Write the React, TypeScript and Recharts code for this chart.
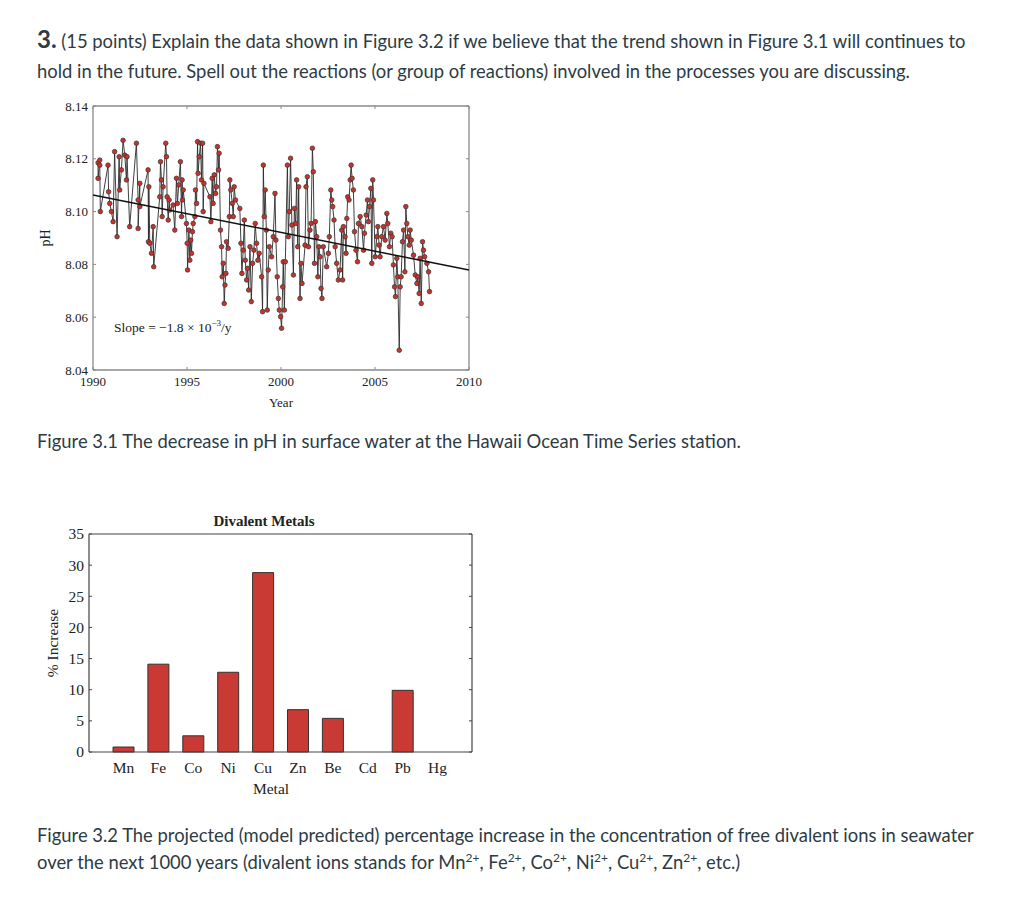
import { ScatterChart, Scatter, XAxis, YAxis, BarChart, Bar } from "recharts"

// HOT station surface pH
const years = [
  1990.27, 1990.27, 1990.36, 1990.36, 1990.39, 1990.8, 1990.83, 1990.89, 1990.98, 1991.07,
  1991.15, 1991.28, 1991.39, 1991.42, 1991.51, 1991.6, 1991.69, 1991.78, 1991.81, 1991.95,
  1992.31, 1992.4, 1992.4, 1992.49, 1992.49, 1992.93, 1992.95, 1992.97, 1993.02, 1993.11,
  1993.2, 1993.23, 1993.55, 1993.59, 1993.64, 1993.68, 1993.73, 1993.87, 1993.91, 1993.94,
  1994.0, 1994.05, 1994.08, 1994.26, 1994.35, 1994.44, 1994.49, 1994.56, 1994.65, 1994.71,
  1994.74, 1994.76, 1994.8, 1994.97, 1995.01, 1995.03, 1995.1, 1995.15, 1995.2, 1995.24,
  1995.29, 1995.33, 1995.42, 1995.45, 1995.51, 1995.56, 1995.59, 1995.65, 1995.72, 1995.77,
  1995.83, 1995.86, 1995.9, 1996.22, 1996.27, 1996.34, 1996.39, 1996.45, 1996.52, 1996.57,
  1996.62, 1996.68, 1996.71, 1996.78, 1996.84, 1996.87, 1996.93, 1996.98, 1997.02, 1997.07,
  1997.1, 1997.19, 1997.25, 1997.28, 1997.33, 1997.41, 1997.46, 1997.51, 1997.58, 1997.81,
  1997.87, 1997.92, 1997.99, 1998.05, 1998.1, 1998.17, 1998.22, 1998.28, 1998.35, 1998.42,
  1998.49, 1998.56, 1998.63, 1998.7, 1998.77, 1998.84, 1998.97, 1999.02, 1999.06, 1999.11,
  1999.16, 1999.22, 1999.27, 1999.32, 1999.38, 1999.5, 1999.59, 1999.68, 1999.73, 1999.8,
  1999.86, 1999.91, 1999.98, 2000.03, 2000.09, 2000.12, 2000.18, 2000.23, 2000.34, 2000.39,
  2000.44, 2000.51, 2000.58, 2000.66, 2000.71, 2000.78, 2000.83, 2000.89, 2000.94, 2001.01,
  2001.06, 2001.12, 2001.28, 2001.33, 2001.4, 2001.46, 2001.54, 2001.6, 2001.67, 2001.72,
  2001.78, 2001.83, 2001.9, 2001.96, 2002.01, 2002.08, 2002.13, 2002.18, 2002.25, 2002.43,
  2002.52, 2002.57, 2002.65, 2002.7, 2002.75, 2002.82, 2002.88, 2002.96, 2003.05, 2003.14,
  2003.23, 2003.28, 2003.32, 2003.41, 2003.46, 2003.5, 2003.55, 2003.62, 2003.68, 2003.73,
  2003.78, 2003.85, 2003.91, 2003.99, 2004.07, 2004.12, 2004.21, 2004.3, 2004.39, 2004.44,
  2004.53, 2004.6, 2004.65, 2004.71, 2004.78, 2004.83, 2004.88, 2004.92, 2005.01, 2005.1,
  2005.15, 2005.22, 2005.27, 2005.36, 2005.45, 2005.54, 2005.63, 2005.68, 2005.77, 2005.84,
  2005.91, 2005.98, 2006.04, 2006.09, 2006.16, 2006.21, 2006.29, 2006.34, 2006.39, 2006.46,
  2006.52, 2006.59, 2006.64, 2006.69, 2006.75, 2006.82, 2006.87, 2006.93, 2007.05, 2007.14,
  2007.23, 2007.28, 2007.35, 2007.4, 2007.46, 2007.53, 2007.58, 2007.64, 2007.76, 2007.85,
  2007.9,
]
const ph = [
  8.1185, 8.1126, 8.1195, 8.1176, 8.1, 8.1176, 8.1075, 8.1031, 8.1, 8.0962,
  8.1227, 8.0905, 8.1208, 8.1082, 8.1158, 8.127, 8.1214, 8.112, 8.1208, 8.0943,
  8.1259, 8.1044, 8.0936, 8.1107, 8.1019, 8.1158, 8.0886, 8.1094, 8.088, 8.0842,
  8.0943, 8.0791, 8.1056, 8.1189, 8.112, 8.0981, 8.1094, 8.1259, 8.1208, 8.1056,
  8.0968, 8.1044, 8.1006, 8.1025, 8.093, 8.1126, 8.1031, 8.1101, 8.1189, 8.0981,
  8.112, 8.1044, 8.1082, 8.0955, 8.088, 8.0779, 8.093, 8.0816, 8.0892, 8.0842,
  8.0924, 8.0955, 8.0981, 8.1082, 8.1031, 8.1265, 8.1145, 8.1208, 8.1259, 8.112,
  8.1259, 8.1, 8.1107, 8.1056, 8.0962, 8.1126, 8.1031, 8.1139, 8.1069, 8.1094,
  8.1246, 8.1158, 8.1221, 8.093, 8.0867, 8.0753, 8.0804, 8.0652, 8.0722, 8.0766,
  8.0886, 8.0861, 8.0981, 8.112, 8.1082, 8.1031, 8.0981, 8.1094, 8.1044, 8.1012,
  8.088, 8.0766, 8.0854, 8.0968, 8.0816, 8.0741, 8.0785, 8.0703, 8.0867, 8.0659,
  8.0804, 8.0854, 8.0955, 8.088, 8.0816, 8.0842, 8.0753, 8.0621, 8.1176, 8.0981,
  8.1082, 8.093, 8.0627, 8.0779, 8.0867, 8.0829, 8.0905, 8.1069, 8.0892, 8.0753,
  8.0671, 8.0627, 8.0602, 8.0558, 8.0715, 8.081, 8.0627, 8.081, 8.1176, 8.0905,
  8.1, 8.1202, 8.0949, 8.076, 8.1012, 8.0955, 8.112, 8.0867, 8.1094, 8.0671,
  8.0804, 8.0728, 8.0873, 8.1094, 8.1132, 8.0867, 8.093, 8.0955, 8.124, 8.1151,
  8.0804, 8.0962, 8.0905, 8.0753, 8.0867, 8.0829, 8.0709, 8.0671, 8.0867, 8.0791,
  8.0842, 8.0905, 8.1082, 8.1044, 8.1019, 8.0968, 8.0867, 8.0804, 8.0741, 8.0779,
  8.093, 8.0741, 8.0943, 8.0905, 8.0842, 8.0974, 8.1056, 8.1044, 8.112, 8.1176,
  8.1126, 8.1082, 8.0924, 8.0854, 8.081, 8.0955, 8.0981, 8.0943, 8.0854, 8.0918,
  8.0987, 8.1044, 8.0962, 8.1019, 8.1088, 8.0804, 8.112, 8.1044, 8.0829, 8.0905,
  8.0943, 8.0873, 8.0829, 8.0905, 8.0943, 8.0892, 8.0993, 8.0955, 8.0867, 8.0918,
  8.0905, 8.0798, 8.0715, 8.0678, 8.0823, 8.0753, 8.0475, 8.0715, 8.0753, 8.0886,
  8.093, 8.0772, 8.1019, 8.0955, 8.0905, 8.0873, 8.093, 8.0892, 8.0835, 8.076,
  8.0728, 8.0753, 8.069, 8.0823, 8.0652, 8.0886, 8.0854, 8.0829, 8.0804, 8.0772,
  8.0697,
]
const trendYears = [1990, 2010]
const trendPh = [8.1063, 8.0779]
const yearTicks = [1990, 1995, 2000, 2005, 2010]
const phTicks = [8.04, 8.06, 8.08, 8.1, 8.12, 8.14]

// Figure 3.2
const metals = ["Mn", "Fe", "Co", "Ni", "Cu", "Zn", "Be", "Cd", "Pb", "Hg"]
const increase = [0.8, 14.1, 2.6, 12.8, 28.8, 6.8, 5.4, 0, 9.9, 0]
const pctTicks = [0, 5, 10, 15, 20, 25, 30, 35]

const phData = years.map((year, i) => ({ year, ph: ph[i] }))
const trendData = trendYears.map((year, i) => ({ year, ph: trendPh[i] }))
const metalData = metals.map((metal, i) => ({ metal, increase: increase[i] }))

const serif = "'Liberation Serif', serif"
const frame1 = "#8a8a8a"
const frame2 = "#444"
const ink = "#222"
const page = "#2d3b45"

const Dot = (p: any) => (
  <circle cx={p.cx} cy={p.cy} r={2.3} fill="#c9322c" stroke="#333" strokeWidth={0.7} />
)
const NoDot = () => <g />

// inward tick marks, labels outside
const leftTick = (size: number, col: string, fmt: (v: number) => string) => (p: any) => (
  <g>
    <line x1={p.x} x2={p.x + 3} y1={p.y} y2={p.y} stroke={col} />
    <text x={p.x - 5} y={p.y} dy="0.35em" textAnchor="end" fontSize={size} fontFamily={serif} fill={ink}>
      {fmt(p.payload.value)}
    </text>
  </g>
)
const rightTick = (col: string) => (p: any) => (
  <line x1={p.x} x2={p.x - 3} y1={p.y} y2={p.y} stroke={col} />
)
const topTick = (p: any) => <line x1={p.x} x2={p.x} y1={p.y} y2={p.y + 3} stroke={frame1} />
const yearTick = (p: any) => (
  <g>
    <line x1={p.x} x2={p.x} y1={p.y} y2={p.y - 3} stroke={frame1} />
    <text x={p.x} y={p.y + 16} textAnchor="middle" fontSize={13} fontFamily={serif} fill={ink}>
      {p.payload.value}
    </text>
  </g>
)
const metalTick = (p: any) => (
  <text x={p.x} y={p.y + 21} textAnchor="middle" fontSize={15.5} fontFamily={serif} fill={ink}>
    {p.payload.value}
  </text>
)

const abs = (left: number, top: number, extra: any = {}) => ({
  position: "absolute" as const,
  left,
  top,
  whiteSpace: "nowrap" as const,
  ...extra,
})

function PhChart() {
  const line = { stroke: frame1, strokeWidth: 1.3 }
  return (
    <ScatterChart width={470} height={330} margin={{ top: 15, right: 20, bottom: 20, left: 33 }}>
      <XAxis
        dataKey="year"
        type="number"
        domain={[1990, 2010]}
        ticks={yearTicks}
        height={30}
        tickSize={0}
        tickMargin={0}
        tickLine={false}
        axisLine={line}
        tick={yearTick}
        interval={0}
      />
      <XAxis
        xAxisId="top"
        dataKey="year"
        orientation="top"
        type="number"
        domain={[1990, 2010]}
        ticks={yearTicks}
        height={1}
        tickSize={0}
        tickMargin={0}
        tickLine={false}
        axisLine={line}
        tick={topTick}
        interval={0}
      />
      <YAxis
        dataKey="ph"
        type="number"
        domain={[8.04, 8.14]}
        ticks={phTicks}
        width={40}
        tickSize={0}
        tickMargin={0}
        tickLine={false}
        axisLine={line}
        tick={leftTick(13, frame1, (v) => v.toFixed(2))}
        interval={0}
      />
      <YAxis
        yAxisId="right"
        dataKey="ph"
        orientation="right"
        type="number"
        domain={[8.04, 8.14]}
        ticks={phTicks}
        width={1}
        tickSize={0}
        tickMargin={0}
        tickLine={false}
        axisLine={line}
        tick={rightTick(frame1)}
        interval={0}
      />
      <Scatter
        data={phData}
        line={{ stroke: "#2a2a2a", strokeWidth: 0.9 }}
        lineType="joint"
        shape={Dot}
        isAnimationActive={false}
      />
      <Scatter
        xAxisId="top"
        yAxisId="right"
        data={trendData}
        line={{ stroke: "#111", strokeWidth: 1.5 }}
        lineType="joint"
        shape={NoDot}
        isAnimationActive={false}
      />
    </ScatterChart>
  )
}

function MetalChart() {
  const line = { stroke: frame2, strokeWidth: 1.2 }
  return (
    <BarChart
      width={470}
      height={310}
      data={metalData}
      margin={{ top: 33, right: 17, bottom: 28, left: 29 }}
      barCategoryGap={0}
    >
      <XAxis
        dataKey="metal"
        height={30}
        padding={{ left: 17, right: 17 }}
        tickSize={0}
        tickMargin={0}
        tickLine={false}
        axisLine={line}
        tick={metalTick}
        interval={0}
      />
      <XAxis
        xAxisId="top"
        dataKey="metal"
        orientation="top"
        height={1}
        padding={{ left: 17, right: 17 }}
        tick={false}
        tickLine={false}
        axisLine={line}
      />
      <YAxis
        type="number"
        domain={[0, 35]}
        ticks={pctTicks}
        width={40}
        tickSize={0}
        tickMargin={0}
        tickLine={false}
        axisLine={line}
        tick={leftTick(15.5, frame2, (v) => String(v))}
        interval={0}
      />
      <YAxis
        yAxisId="right"
        orientation="right"
        type="number"
        domain={[0, 35]}
        ticks={pctTicks}
        width={1}
        tickSize={0}
        tickMargin={0}
        tickLine={false}
        axisLine={line}
        tick={rightTick(frame2)}
        interval={0}
      />
      <Bar dataKey="increase" barSize={21} fill="#c93a35" stroke="#333" strokeWidth={1} isAnimationActive={false} />
      <Bar
        xAxisId="top"
        yAxisId="right"
        dataKey="increase"
        barSize={21}
        fill="none"
        stroke="none"
        isAnimationActive={false}
      />
    </BarChart>
  )
}

export default function App() {
  const body = { fontFamily: "Lato, sans-serif", fontSize: 18.4, color: page, lineHeight: "22px" }
  const sup = { fontSize: 12, lineHeight: 0 }
  return (
    <div style={{ position: "absolute", left: 0, top: 0, width: 1024, height: 908, background: "#fff" }}>
      <div style={abs(37, 28, body)}>
        <span style={{ fontSize: 24, fontWeight: 700 }}>3.</span> (15 points) Explain the data shown in Figure 3.2 if
        we believe that the trend shown in Figure 3.1 will continues to
      </div>
      <div style={abs(37, 60, body)}>
        hold in the future. Spell out the reactions (or group of reactions) involved in the processes you are
        discussing.
      </div>

      <div style={abs(20, 90)}>
        <PhChart />
      </div>
      <div style={abs(46, 238, { fontFamily: serif, fontSize: 14, color: ink, transform: "translate(-50%, -50%) rotate(-90deg)" })}>
        pH
      </div>
      <div style={abs(114, 318, { fontFamily: serif, fontSize: 13.5, color: ink })}>
        Slope = −1.8 × 10<sup style={{ fontSize: 9 }}>−3</sup>/y
      </div>
      <div style={abs(281, 403, { fontFamily: serif, fontSize: 13, color: ink, transform: "translate(-50%, -50%)" })}>
        Year
      </div>

      <div style={abs(37, 430, body)}>
        Figure 3.1 The decrease in pH in surface water at the Hawaii Ocean Time Series station.
      </div>

      <div style={abs(264, 521, { fontFamily: serif, fontSize: 15, fontWeight: 700, color: ink, transform: "translate(-50%, -50%)" })}>
        Divalent Metals
      </div>
      <div style={abs(20, 500)}>
        <MetalChart />
      </div>
      <div style={abs(53, 643, { fontFamily: serif, fontSize: 15.5, color: ink, transform: "translate(-50%, -50%) rotate(-90deg)" })}>
        % Increase
      </div>
      <div style={abs(271, 789, { fontFamily: serif, fontSize: 15.5, color: ink, transform: "translate(-50%, -50%)" })}>
        Metal
      </div>

      <div style={abs(37, 824, body)}>
        Figure 3.2 The projected (model predicted) percentage increase in the concentration of free divalent ions in
        seawater
      </div>
      <div style={abs(37, 851, body)}>
        over the next 1000 years (divalent ions stands for Mn<sup style={sup}>2+</sup>, Fe<sup style={sup}>2+</sup>,
        Co<sup style={sup}>2+</sup>, Ni<sup style={sup}>2+</sup>, Cu<sup style={sup}>2+</sup>, Zn
        <sup style={sup}>2+</sup>, etc.)
      </div>
    </div>
  )
}
